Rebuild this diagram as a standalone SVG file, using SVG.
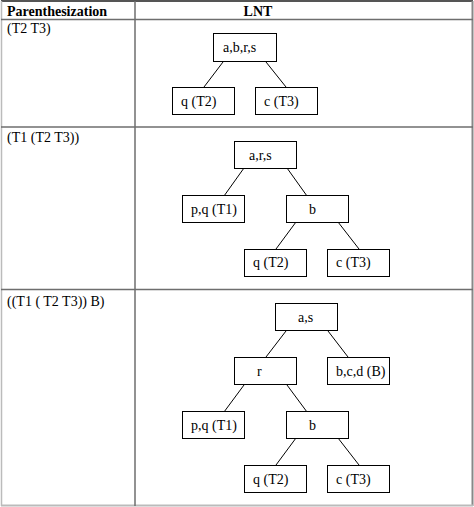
<svg xmlns="http://www.w3.org/2000/svg" width="474" height="507" viewBox="0 0 474 507">
<style>
  .grid { stroke: #6e6e6e; stroke-width: 1.5; fill: none; }
  .box { fill: #fff; stroke: #000; stroke-width: 1; }
  .lbl { font-family: "Liberation Serif", "Times New Roman", serif; font-size: 14px; fill: #000; }
  .hdr { font-family: "Liberation Serif", "Times New Roman", serif; font-size: 14px; font-weight: bold; fill: #000; }
  .edge { stroke: #000; stroke-width: 1; }
</style>
<rect width="474" height="507" fill="#fff"/>
<g id="table">
  <line class="grid" x1="1" y1="1" x2="473" y2="1" style="stroke:#555;stroke-width:2"/>
  <line class="grid" x1="1.5" y1="1" x2="1.5" y2="506" style="stroke:#bbb"/>
  <line class="grid" x1="472.5" y1="1" x2="472.5" y2="506" style="stroke:#888;stroke-width:2"/>
  <line class="grid" x1="1" y1="505.5" x2="473" y2="505.5" style="stroke:#bbb;stroke-width:2"/>
  <line class="grid" x1="135" y1="1" x2="135" y2="506"/>
  <line class="grid" x1="1" y1="19.5" x2="473" y2="19.5"/>
  <line class="grid" x1="1" y1="127" x2="473" y2="127"/>
  <line class="grid" x1="1" y1="289.5" x2="473" y2="289.5"/>
  <text class="hdr" x="7" y="16">Parenthesization</text>
  <text class="hdr" x="258" y="16" text-anchor="middle">LNT</text>
  <text class="lbl" x="7" y="33">(T2 T3)</text>
  <text class="lbl" x="7" y="142">(T1 (T2 T3))</text>
  <text class="lbl" x="7" y="306">((T1 ( T2 T3)) B)</text>
</g>
<g id="connectors">
  <line class="edge" x1="223" y1="62" x2="204" y2="87"/>
  <line class="edge" x1="266" y1="62" x2="286" y2="87"/>
  <line class="edge" x1="244" y1="168" x2="224" y2="196"/>
  <line class="edge" x1="287" y1="168" x2="307" y2="196"/>
  <line class="edge" x1="296" y1="222" x2="276" y2="249"/>
  <line class="edge" x1="338" y1="222" x2="359" y2="249"/>
  <line class="edge" x1="286" y1="331" x2="266" y2="357"/>
  <line class="edge" x1="328" y1="331" x2="348" y2="357"/>
  <line class="edge" x1="244" y1="385" x2="224" y2="412"/>
  <line class="edge" x1="287" y1="385" x2="307" y2="412"/>
  <line class="edge" x1="296" y1="438" x2="276" y2="465"/>
  <line class="edge" x1="338" y1="438" x2="359" y2="465"/>
</g>
<g id="n1-root"><rect class="box" x="213.5" y="33.5" width="63" height="28"/><text class="lbl" x="223" y="52">a,b,r,s</text></g>
<g id="n1-q"><rect class="box" x="172.5" y="87.5" width="62" height="27"/><text class="lbl" x="181" y="106">q (T2)</text></g>
<g id="n1-c"><rect class="box" x="255.5" y="87.5" width="62" height="27"/><text class="lbl" x="264" y="106">c (T3)</text></g>

<g id="n2-root"><rect class="box" x="234.5" y="141.5" width="62" height="27"/><text class="lbl" x="249" y="160">a,r,s</text></g>
<g id="n2-pq"><rect class="box" x="182.5" y="195.5" width="62" height="27"/><text class="lbl" x="191" y="214">p,q (T1)</text></g>
<g id="n2-b"><rect class="box" x="286.5" y="195.5" width="62" height="27"/><text class="lbl" x="309" y="214">b</text></g>
<g id="n2-q"><rect class="box" x="244.5" y="249.5" width="62" height="27"/><text class="lbl" x="253" y="267">q (T2)</text></g>
<g id="n2-c"><rect class="box" x="327.5" y="249.5" width="62" height="27"/><text class="lbl" x="336" y="267">c (T3)</text></g>

<g id="n3-root"><rect class="box" x="275.5" y="303.5" width="62" height="27"/><text class="lbl" x="298" y="322">a,s</text></g>
<g id="n3-r"><rect class="box" x="234.5" y="357.5" width="62" height="27"/><text class="lbl" x="257" y="376">r</text></g>
<g id="n3-bcd"><rect class="box" x="327.5" y="357.5" width="62" height="27"/><text class="lbl" x="336" y="376">b,c,d (B)</text></g>
<g id="n3-pq"><rect class="box" x="182.5" y="411.5" width="62" height="27"/><text class="lbl" x="191" y="430">p,q (T1)</text></g>
<g id="n3-b"><rect class="box" x="286.5" y="411.5" width="62" height="27"/><text class="lbl" x="309" y="430">b</text></g>
<g id="n3-q"><rect class="box" x="244.5" y="465.5" width="62" height="27"/><text class="lbl" x="253" y="484">q (T2)</text></g>
<g id="n3-c"><rect class="box" x="327.5" y="465.5" width="62" height="27"/><text class="lbl" x="336" y="484">c (T3)</text></g>
</svg>
